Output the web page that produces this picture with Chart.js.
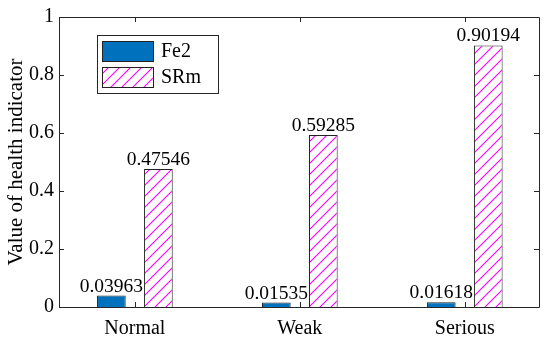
<!DOCTYPE html>
<html>
<head>
<meta charset="utf-8">
<script src="https://cdn.jsdelivr.net/npm/chart.js@4"></script>
<style>
  body { margin: 0; background: #fff; }
  #wrap { width: 550px; height: 344px; }
</style>
</head>
<body>
<div id="wrap"><canvas id="chart" width="550" height="344"></canvas></div>
<script>
// Data
// ------------------------------
var categories = ['Normal', 'Weak', 'Serious'];
var fe2Values = [0.03963, 0.01535, 0.01618];
var srmValues = [0.47546, 0.59285, 0.90194];
var yTicks = [0, 0.2, 0.4, 0.6, 0.8, 1];

var FONT = '"Liberation Serif", "Times New Roman", serif';
var AXIS_COLOR = '#262626';

// Hatch pattern for SRm
function makeHatch() {
    var n = 11;
    var c = document.createElement('canvas');
    c.width = n;
    c.height = n;
    var ctx = c.getContext('2d');
    ctx.fillStyle = '#fff';
    ctx.fillRect(0, 0, n, n);
    ctx.strokeStyle = '#ff00ff';
    ctx.lineWidth = 1.1;
    ctx.beginPath();
    ctx.moveTo(-1, n + 1); ctx.lineTo(n + 1, -1);
    ctx.moveTo(-n, n); ctx.lineTo(n, -n);
    ctx.moveTo(0, 2 * n); ctx.lineTo(2 * n, 0);
    ctx.stroke();
    return ctx.createPattern(c, 'repeat');
}
var hatch = makeHatch();

function toPoints(values) {
    return values.map(function (v, i) { return { x: i + 1, y: v }; });
}

// Box + inward ticks (MATLAB style)
var boxTicks = {
    id: 'boxTicks',
    afterDatasetsDraw: function (chart) {
        var ctx = chart.ctx, a = chart.chartArea;
        var xs = chart.scales.x, ys = chart.scales.y;
        var len = 5;
        ctx.save();
        ctx.strokeStyle = AXIS_COLOR;
        ctx.lineWidth = 1;
        ctx.beginPath();
        ctx.rect(Math.round(a.left) + 0.5, Math.round(a.top) + 0.5,
                 Math.round(a.right - a.left), Math.round(a.bottom - a.top));
        ys.ticks.forEach(function (t, i) {
            var y = Math.round(ys.getPixelForTick(i)) + 0.5;
            ctx.moveTo(a.left, y); ctx.lineTo(a.left + len, y);
            ctx.moveTo(a.right, y); ctx.lineTo(a.right - len, y);
        });
        xs.ticks.forEach(function (t, i) {
            var x = Math.round(xs.getPixelForTick(i)) + 0.5;
            ctx.moveTo(x, a.bottom); ctx.lineTo(x, a.bottom - len);
            ctx.moveTo(x, a.top); ctx.lineTo(x, a.top + len);
        });
        ctx.stroke();
        ctx.restore();
    }
};

// Value labels above bars
var valueLabels = {
    id: 'valueLabels',
    afterDatasetsDraw: function (chart) {
        var ctx = chart.ctx;
        ctx.save();
        ctx.font = '19.5px ' + FONT;
        ctx.fillStyle = '#000';
        ctx.textAlign = 'center';
        ctx.textBaseline = 'alphabetic';
        chart.data.datasets.forEach(function (ds, di) {
            chart.getDatasetMeta(di).data.forEach(function (bar, i) {
                ctx.fillText(ds.data[i].y.toFixed(5), bar.x, bar.y - 4);
            });
        });
        ctx.restore();
    }
};

// Legend box inside the axes
var boxLegend = {
    id: 'boxLegend',
    afterDraw: function (chart) {
        var ctx = chart.ctx, a = chart.chartArea;
        var x0 = a.left + 38, y0 = a.top + 18, w = 121, h = 58;
        ctx.save();
        ctx.fillStyle = '#fff';
        ctx.fillRect(x0, y0, w, h);
        ctx.strokeStyle = AXIS_COLOR;
        ctx.lineWidth = 1;
        ctx.strokeRect(x0 + 0.5, y0 + 0.5, w, h);
        ctx.font = '20px ' + FONT;
        ctx.textBaseline = 'middle';
        chart.data.datasets.forEach(function (ds, i) {
            var sy = y0 + 6 + i * 26;
            ctx.fillStyle = ds.backgroundColor;
            ctx.fillRect(x0 + 5, sy, 52, 20);
            ctx.strokeStyle = '#222';
            ctx.strokeRect(x0 + 5.5, sy + 0.5, 51, 20);
            ctx.fillStyle = '#000';
            ctx.fillText(ds.label, x0 + 64, sy + 11);
        });
        ctx.restore();
    }
};

var chart = new Chart(document.getElementById('chart'), {
    type: 'bar',
    data: {
        datasets: [
            {
                label: 'Fe2',
                data: toPoints(fe2Values),
                backgroundColor: '#0072BD',
                borderColor: '#222',
                borderWidth: 1,
                categoryPercentage: 0.57,
                barPercentage: 0.61
            },
            {
                label: 'SRm',
                data: toPoints(srmValues),
                backgroundColor: hatch,
                borderColor: '#222',
                borderWidth: 1,
                categoryPercentage: 0.57,
                barPercentage: 0.61
            }
        ]
    },
    options: {
        responsive: false,
        animation: false,
        devicePixelRatio: 1,
        layout: { padding: { left: 0, top: 15, right: 11, bottom: 0 } },
        plugins: {
            legend: { display: false },
            tooltip: { enabled: false }
        },
        scales: {
            x: {
                type: 'linear',
                offset: false,
                min: 0.54,
                max: 3.45,
                grid: { display: false, drawTicks: false, offset: false },
                border: { display: false },
                afterFit: function (s) { s.height = 37; },
                afterBuildTicks: function (s) {
                    s.ticks = categories.map(function (c, i) { return { value: i + 1 }; });
                },
                ticks: {
                    padding: 10,
                    color: '#000',
                    font: { family: FONT, size: 20 },
                    callback: function (v) { return categories[v - 1]; }
                }
            },
            y: {
                min: 0,
                max: 1,
                grid: { display: false, drawTicks: false },
                border: { display: false },
                afterFit: function (s) { s.width = 59; },
                afterBuildTicks: function (s) {
                    s.ticks = yTicks.map(function (v) { return { value: v }; });
                },
                ticks: {
                    padding: 5,
                    color: '#000',
                    font: { family: FONT, size: 20 },
                    callback: function (v) { return String(v); }
                },
                title: {
                    display: true,
                    text: 'Value of health indicator',
                    color: '#000',
                    font: { family: FONT, size: 21 },
                    padding: { top: 4, bottom: 0 }
                }
            }
        }
    },
    plugins: [boxTicks, valueLabels, boxLegend]
});
</script>
</body>
</html>
